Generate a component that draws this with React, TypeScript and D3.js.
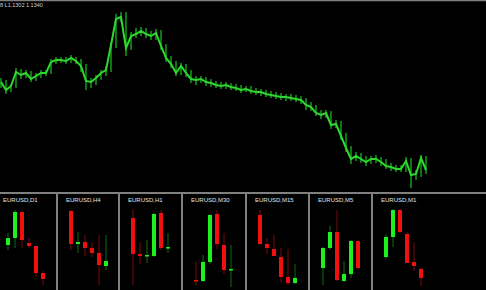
import React from "react";
import * as d3 from "d3";

const W = 486;
const H = 290;

// Main EURUSD chart: one bar every few pixels (prices)
const mainClose = [
  1.1290, 1.1250, 1.1270, 1.1340, 1.1325, 1.1335, 1.1305, 1.1320, 1.1335, 1.1335,
  1.1390, 1.1400, 1.1400, 1.1395, 1.1410, 1.1395, 1.1370, 1.1295, 1.1290, 1.1310,
  1.1335, 1.1350, 1.1475, 1.1605, 1.1615, 1.1460, 1.1520, 1.1530, 1.1545, 1.1530,
  1.1520, 1.1535, 1.1470, 1.1410, 1.1380, 1.1335, 1.1370, 1.1335, 1.1305, 1.1300,
  1.1305, 1.1290, 1.1285, 1.1275, 1.1270, 1.1275, 1.1265, 1.1260, 1.1250, 1.1255,
  1.1245, 1.1240, 1.1240, 1.1230, 1.1225, 1.1220, 1.1215, 1.1215, 1.1210, 1.1205,
  1.1200, 1.1175, 1.1165, 1.1135, 1.1125, 1.1135, 1.1075, 1.1080, 1.1020, 1.0960,
  1.0905, 1.0920, 1.0905, 1.0890, 1.0905, 1.0905, 1.0890, 1.0870, 1.0865, 1.0855,
  1.0855, 1.0895, 1.0825, 1.0830, 1.0910, 1.0850,
];
const mainHigh = [
  1.1310, 1.1300, 1.1280, 1.1360, 1.1355, 1.1350, 1.1345, 1.1335, 1.1350, 1.1350,
  1.1405, 1.1415, 1.1415, 1.1415, 1.1425, 1.1415, 1.1405, 1.1380, 1.1310, 1.1325,
  1.1350, 1.1370, 1.1490, 1.1630, 1.1640, 1.1640, 1.1540, 1.1560, 1.1565, 1.1560,
  1.1545, 1.1555, 1.1550, 1.1480, 1.1420, 1.1395, 1.1385, 1.1380, 1.1350, 1.1320,
  1.1320, 1.1315, 1.1305, 1.1295, 1.1290, 1.1290, 1.1285, 1.1280, 1.1275, 1.1270,
  1.1270, 1.1260, 1.1255, 1.1250, 1.1245, 1.1240, 1.1235, 1.1230, 1.1230, 1.1225,
  1.1220, 1.1210, 1.1190, 1.1175, 1.1150, 1.1150, 1.1145, 1.1100, 1.1095, 1.1035,
  1.0970, 1.0940, 1.0935, 1.0920, 1.0920, 1.0925, 1.0915, 1.0905, 1.0885, 1.0875,
  1.0875, 1.0915, 1.0910, 1.0850, 1.0925, 1.0920,
];
const mainLow = [
  1.1260, 1.1230, 1.1240, 1.1260, 1.1305, 1.1310, 1.1290, 1.1295, 1.1310, 1.1320,
  1.1330, 1.1380, 1.1385, 1.1380, 1.1385, 1.1380, 1.1340, 1.1250, 1.1260, 1.1275,
  1.1300, 1.1320, 1.1340, 1.1460, 1.1590, 1.1420, 1.1450, 1.1510, 1.1520, 1.1510,
  1.1500, 1.1500, 1.1450, 1.1390, 1.1360, 1.1320, 1.1325, 1.1315, 1.1285, 1.1275,
  1.1285, 1.1270, 1.1265, 1.1260, 1.1255, 1.1255, 1.1250, 1.1245, 1.1235, 1.1240,
  1.1230, 1.1225, 1.1220, 1.1215, 1.1210, 1.1205, 1.1200, 1.1195, 1.1195, 1.1190,
  1.1180, 1.1150, 1.1145, 1.1120, 1.1105, 1.1110, 1.1055, 1.1060, 1.1000, 1.0940,
  1.0880, 1.0895, 1.0885, 1.0870, 1.0880, 1.0885, 1.0870, 1.0855, 1.0845, 1.0840,
  1.0840, 1.0840, 1.0760, 1.0800, 1.0815, 1.0830,
];

const headerText = "8 L1.1302 1.1340";

// Mini panels (points)
const panelLabels = ["EURUSD,D1", "EURUSD,H4", "EURUSD,H1", "EURUSD,M30", "EURUSD,M15", "EURUSD,M5", "EURUSD,M1"];
const panelOpen = [
  [55, 62, 88, 57, 54, 27],
  [89, 56, 58, 52, 47, 34],
  [82, 46, 44, 44, 87, 52],
  [20, 19, 38, 86, 55, 30],
  [85, 56, 51, 43, 23, 17],
  [32, 52, 68, 19, 26, 59],
  [43, 63, 90, 66, 38, 31],
];
const panelHigh = [
  [67, 90, 90, 62, 54, 29],
  [90, 68, 65, 58, 65, 65],
  [91, 58, 60, 87, 90, 67],
  [38, 45, 86, 90, 67, 55],
  [90, 62, 65, 52, 51, 36],
  [53, 74, 90, 39, 60, 60],
  [66, 91, 91, 68, 58, 32],
];
const panelLow = [
  [50, 52, 52, 52, 23, 15],
  [50, 47, 44, 43, 15, 30],
  [15, 36, 37, 43, 50, 47],
  [15, 18, 36, 51, 26, 13],
  [55, 46, 44, 18, 15, 16],
  [15, 50, 19, 18, 22, 30],
  [41, 53, 67, 37, 29, 14],
];
const panelClose = [
  [62, 88, 60, 54, 27, 21],
  [56, 58, 52, 47, 35, 39],
  [46, 44, 45, 86, 52, 53],
  [19, 38, 85, 56, 30, 31],
  [56, 52, 44, 23, 17, 22],
  [52, 68, 20, 26, 59, 32],
  [63, 90, 68, 37, 34, 22],
];
const panelLefts = [-6, 57, 119, 182, 246, 309, 372];

export default function App() {
  const n = mainClose.length;
  const x = d3.scaleLinear().domain([0, n - 1]).range([1, 426]);
  const y = d3.scaleLinear().domain([1.075, 1.17]).range([190, 0]);
  const line = d3
    .line<number>()
    .x((_, i) => x(i))
    .y((d) => y(d))
    .curve(d3.curveLinear);

  const py = d3.scaleLinear().domain([0, 100]).range([300, 200]);
  const cx = d3.scaleLinear().domain([0, 5]).range([14, 49]);

  return (
    <div style={{ position: "fixed", left: 0, top: 0, width: W, height: H, background: "#000" }}>
      <svg width={W} height={H} style={{ display: "block", background: "#000" }}>
        <rect x={0} y={0} width={W} height={H} fill="#000" />
        {/* top border */}
        <line x1={0} x2={W} y1={0.5} y2={0.5} stroke="#808080" strokeWidth={1.5} />
        <text x={0} y={7} fontSize={5.5} fill="#cfcfcf" fontFamily="Liberation Sans, Arial, sans-serif">
          {headerText}
        </text>

        {/* main chart wicks */}
        <g>
          {mainClose.map((_, i) => (
            <line
              key={"w" + i}
              x1={x(i)}
              x2={x(i)}
              y1={y(mainHigh[i])}
              y2={y(mainLow[i])}
              stroke="#13921a"
              strokeWidth={1.6}
            />
          ))}
        </g>
        <path d={line(mainClose) || ""} fill="none" stroke="#2fd82f" strokeWidth={2} strokeLinejoin="miter" />

        {/* panel separators */}
        <line x1={0} x2={W} y1={193} y2={193} stroke="#808080" strokeWidth={2} />
        {panelLefts.slice(1).map((l, i) => (
          <line key={"s" + i} x1={l} x2={l} y1={193} y2={H} stroke="#808080" strokeWidth={2} />
        ))}

        {panelLabels.map((lab, p) => {
          const left = panelLefts[p];
          return (
            <g key={"p" + p}>
              <text
                x={left + 9}
                y={202}
                fontSize={6}
                fill="#e0e0e0"
                fontFamily="Liberation Sans, Arial, sans-serif"
              >
                {lab}
              </text>
              {panelOpen[p].map((o, i) => {
                const c = panelClose[p][i];
                const bull = c >= o;
                const xx = left + cx(i);
                const top = py(Math.max(o, c));
                const bot = py(Math.min(o, c));
                return (
                  <g key={i}>
                    <line
                      x1={xx}
                      x2={xx}
                      y1={py(panelHigh[p][i])}
                      y2={py(panelLow[p][i])}
                      stroke={bull ? "#0f6e0f" : "#7a0a0a"}
                      strokeWidth={1}
                    />
                    <rect
                      x={xx - 2}
                      y={top}
                      width={4}
                      height={Math.max(1.5, bot - top)}
                      fill={bull ? "#1ef01e" : "#f01010"}
                    />
                  </g>
                );
              })}
            </g>
          );
        })}
      </svg>
    </div>
  );
}
